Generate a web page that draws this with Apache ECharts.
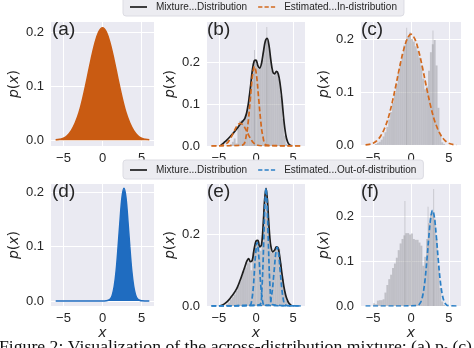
<!DOCTYPE html>
<html><head><meta charset="utf-8">
<script src="https://cdn.jsdelivr.net/npm/echarts@6/dist/echarts.min.js"></script>
<style>html,body{margin:0;padding:0;background:#fff}#c{width:474px;height:348px}</style>
</head><body><div id="c"></div>
<script>
// ---------- data ----------
const xTicks = [-5, 0, 5];
const yTicks3 = [0, 0.1, 0.2];
const yTicks2 = [0, 0.2];
const legendNames = ['Mixture...Distribution', 'Estimated...In-distribution', 'Estimated...Out-of-distribution'];
const panelLabels = ['(a)', '(b)', '(c)', '(d)', '(e)', '(f)'];

// (a) in-distribution density (filled)
const xA = [-6,-5.5,-5,-4.5,-4,-3.5,-3,-2.5,-2,-1.5,-1,-0.5,0,0.5,1,1.5,2,2.5,3,3.5,4,4.5,5,5.5,6];
const yA = [0.001,0.002,0.004,0.009,0.018,0.032,0.052,0.080,0.113,0.148,0.179,0.201,0.209,0.201,0.179,0.148,0.113,0.080,0.052,0.032,0.018,0.009,0.004,0.002,0.001];
// (d) out-of-distribution density (filled)
const xD = [-6,-4,-2,0,0.5,0.75,1,1.25,1.5,1.75,2,2.25,2.5,2.75,3,3.25,3.5,3.75,4,4.25,4.5,4.75,5,6];
const yD = [0,0,0,0,0.0005,0.0015,0.004,0.011,0.027,0.056,0.100,0.149,0.191,0.207,0.191,0.149,0.100,0.056,0.027,0.011,0.004,0.0015,0.0005,0];

// histogram bins (centres) and heights
const histBins = [-4.875,-4.625,-4.375,-4.125,-3.875,-3.625,-3.375,-3.125,-2.875,-2.625,-2.375,-2.125,-1.875,-1.625,-1.375,-1.125,-0.875,-0.625,-0.375,-0.125,0.125,0.375,0.625,0.875,1.125,1.375,1.625,1.875,2.125,2.375,2.625,2.875,3.125,3.375,3.625,3.875,4.125,4.375,4.625,4.875];
const binWidth = 0.25;
const histB = [0,0,0,0,0,0,0.004,0.010,0.018,0.006,0.045,0.060,0.062,0.064,0.075,0.095,0.120,0.150,0.188,0.205,0.195,0.185,0.188,0.205,0.235,0.255,0.250,0.220,0.180,0.168,0.175,0.178,0.160,0.120,0.065,0.025,0.005,0,0,0];
const histC = [0,0.002,0.004,0.006,0.010,0.016,0.024,0.034,0.048,0.062,0.080,0.098,0.115,0.135,0.155,0.172,0.188,0.198,0.205,0.212,0.200,0.195,0.186,0.178,0.165,0.150,0.125,0.105,0.110,0.140,0.175,0.190,0.198,0.150,0.070,0.020,0.005,0.002,0,0];
const histE = [0,0,0,0,0.005,0.010,0.018,0.025,0.032,0.042,0.055,0.068,0.085,0.098,0.108,0.120,0.125,0.100,0.150,0.172,0.175,0.165,0.155,0.180,0.260,0.320,0.250,0.170,0.150,0.150,0.160,0.165,0.160,0.120,0.075,0.040,0.015,0.003,0,0];
const histF = [0.006,0.004,0.012,0.013,0.013,0.015,0.030,0.047,0.060,0.070,0.085,0.095,0.108,0.125,0.140,0.150,0.158,0.163,0.163,0.160,0.162,0.150,0.148,0.148,0.142,0.135,0.090,0.110,0.150,0.185,0.205,0.210,0.195,0.150,0.090,0.040,0.010,0.002,0,0];
// narrow spike bins
const spikeWidth = 0.1;
const spikeBx = [-0.2, 1.46], spikeBh = [0.229, 0.284];
const spikeCx = [-0.56, 2.9], spikeCh = [0.221, 0.216];
const spikeFx = [-0.8, 2.25, 3.0], spikeFh = [0.235, 0.222, 0.262];

// (b) mixture KDE and estimated in-distribution components
const xBk = [-4.75,-4.5,-4.25,-4,-3.5,-3,-2.5,-2,-1.75,-1.5,-1.25,-1,-0.75,-0.5,-0.25,0,0.25,0.5,0.75,1,1.25,1.5,1.75,2,2.25,2.5,2.75,3,3.25,3.5,3.75,4,4.25,4.5,4.75];
const yBk = [0.002,0.005,0.009,0.013,0.022,0.032,0.043,0.055,0.060,0.066,0.080,0.105,0.140,0.180,0.203,0.205,0.192,0.186,0.198,0.225,0.250,0.257,0.240,0.205,0.178,0.172,0.178,0.172,0.148,0.110,0.062,0.028,0.010,0.003,0.001];
const xB1 = [-6,-4.8,-3.9,-3.45,-3.0,-2.55,-2.1,-1.65,-1.2,-0.75,-0.3,0.6,6];
const yB1 = [0,0.0006,0.007,0.018,0.033,0.048,0.054,0.048,0.033,0.018,0.007,0.0006,0];
const xB2 = [-6,-1.85,-1.3,-1.025,-0.75,-0.475,-0.2,0.075,0.35,0.625,0.9,1.45,6];
const yB2 = [0,0.002,0.026,0.062,0.115,0.168,0.19,0.168,0.115,0.062,0.026,0.002,0];
// (c) estimated in-distribution
const xC = [-6,-5.5,-5,-4.5,-4,-3.5,-3,-2.5,-2,-1.5,-1,-0.5,0,0.5,1,1.5,2,2.5,3,3.5,4,4.5,5,5.5,6];
const yC = [0,0.001,0.003,0.008,0.017,0.031,0.051,0.079,0.112,0.147,0.178,0.200,0.209,0.200,0.178,0.147,0.112,0.079,0.051,0.031,0.017,0.008,0.003,0.001,0];
// (e) mixture KDE and estimated out-of-distribution components
const xEk = [-4.75,-4.5,-4.25,-4,-3.75,-3.5,-3.25,-3,-2.75,-2.5,-2.25,-2,-1.75,-1.5,-1.25,-1,-0.75,-0.5,-0.25,0,0.25,0.5,0.75,1,1.15,1.35,1.55,1.7,1.85,2,2.25,2.5,2.75,3,3.25,3.5,3.75,4,4.25,4.5,4.75];
const yEk = [0.001,0.003,0.006,0.010,0.015,0.021,0.028,0.035,0.043,0.053,0.066,0.080,0.095,0.110,0.125,0.133,0.124,0.128,0.160,0.182,0.184,0.166,0.172,0.240,0.295,0.330,0.295,0.240,0.195,0.168,0.152,0.156,0.166,0.162,0.130,0.090,0.055,0.030,0.015,0.006,0.002];
const xE1 = [-6,-0.85,-0.6,-0.35,-0.1,0.15,0.4,0.65,0.9,1.15,6];
const yE1 = [0,0.002,0.013,0.056,0.134,0.178,0.134,0.056,0.013,0.002,0];
const xE2 = [-6,0.51,0.79,1.07,1.21,1.35,1.49,1.63,1.91,2.19,6];
const yE2 = [0,0.004,0.045,0.200,0.291,0.330,0.291,0.200,0.045,0.004,0];
const xE3 = [-6,1.65,2.05,2.45,2.65,2.85,3.05,3.25,3.65,4.05,6];
const yE3 = [0,0.002,0.022,0.100,0.146,0.165,0.146,0.100,0.022,0.002,0];
// (f) estimated out-of-distribution
const xF = [-6,-2,0.85,1.1,1.35,1.6,1.85,2.1,2.35,2.6,2.85,3.1,3.35,3.6,3.85,4.1,4.35,4.6,4.85,6];
const yF = [0,0,0.001,0.004,0.011,0.028,0.058,0.103,0.154,0.197,0.214,0.197,0.154,0.103,0.058,0.028,0.011,0.004,0.001,0];

// ---------- build ----------
const FONT = '"Liberation Sans", Arial, sans-serif';
const TXT = '#262626';
const ORANGE_FILL = '#c95b12', ORANGE = '#d2691e', BLUE_FILL = '#1f6cc0', BLUE = '#2a7fc6', BLACK = '#1e1e1e', HIST = 'rgba(150,150,156,0.5)';
const zip = (xs, ys) => xs.map((x, i) => [x, ys[i]]);

const grids = [
  {left:51, top:22, width:103, height:124},
  {left:207, top:22, width:98, height:124},
  {left:361, top:22, width:100, height:124},
  {left:51, top:184, width:103, height:122},
  {left:207, top:184, width:98, height:122},
  {left:361, top:184, width:100, height:122}
];
const yRanges = [[-0.0105,0.2195],[0,0.296],[-0.002,0.232],[-0.009,0.215],[0,0.342],[0,0.273]];
const yTickSets = [yTicks3, yTicks3, yTicks3, yTicks3, yTicks2, yTicks3];

const nameRich = {i:{fontStyle:'italic', fontSize:14, color:TXT, fontFamily:'"DejaVu Sans", sans-serif'}, u:{fontSize:14, color:TXT, fontFamily:'"DejaVu Sans", sans-serif'}};
const xAxes = grids.map((g, i) => ({
  type:'value', gridIndex:i, min:-6.6, max:6.6,
  axisLine:{show:false}, axisTick:{show:false, customValues:xTicks},
  axisLabel:{customValues:xTicks, formatter:v => (v < 0 ? '\u2212' + Math.abs(v) : String(v)), color:TXT, fontSize:13, fontFamily:FONT, margin:6},
  splitLine:{show:true, lineStyle:{color:'#ffffff', width:1}},
  name: i >= 3 ? '{i|x}' : '', nameLocation:'middle', nameGap:18,
  nameTextStyle:{fontSize:14, color:TXT, rich:nameRich}
}));
const yAxes = grids.map((g, i) => ({
  type:'value', gridIndex:i, min:yRanges[i][0], max:yRanges[i][1],
  axisLine:{show:false}, axisTick:{show:false, customValues:yTickSets[i]},
  axisLabel:{customValues:yTickSets[i], formatter:v => v.toFixed(1), color:TXT, fontSize:13, fontFamily:FONT, margin:7},
  splitLine:{show:true, lineStyle:{color:'#ffffff', width:1}},
  name:'{i|p}{u|(}{i|x}{u|)}', nameLocation:'middle', nameGap:30, nameRotate:90,
  nameTextStyle:{fontSize:14, color:TXT, rich:nameRich}
}));

function histData(heights){ return histBins.map((c, i) => [c - binWidth/2, c + binWidth/2, heights[i]]); }
function spikeData(xs, hs){ return xs.map((c, i) => [c - spikeWidth/2, c + spikeWidth/2, hs[i]]); }
function histSeries(idx, data){
  return {
    type:'custom', xAxisIndex:idx, yAxisIndex:idx, data:data, silent:true, z:1,
    encode:{x:[0,1], y:2},
    renderItem:function(params, api){
      const p0 = api.coord([api.value(0), api.value(2)]);
      const p1 = api.coord([api.value(1), 0]);
      return {type:'rect', shape:{x:p0[0], y:p0[1], width:p1[0]-p0[0], height:p1[1]-p0[1]}, style:{fill:HIST}};
    }
  };
}
function lineSeries(idx, name, xs, ys, color, dashed, width){
  return {
    type:'line', name:name, xAxisIndex:idx, yAxisIndex:idx, data:zip(xs, ys),
    smooth:0.35, symbol:'none', showSymbol:false, silent:true, z:3,
    lineStyle:{color:color, width:width, type: dashed ? [5, 2.6] : 'solid'},
    itemStyle:{color:color}
  };
}
function fillSeries(idx, xs, ys, color){
  return {
    type:'line', name:'fill' + idx, xAxisIndex:idx, yAxisIndex:idx, data:zip(xs, ys),
    smooth:0.35, symbol:'none', silent:true, z:2,
    lineStyle:{color:color, width:1.5}, areaStyle:{color:color, opacity:1, origin:0}
  };
}

const series = [
  fillSeries(0, xA, yA, ORANGE_FILL),
  histSeries(1, histData(histB)), histSeries(1, spikeData(spikeBx, spikeBh)),
  lineSeries(1, legendNames[0], xBk, yBk, BLACK, false, 1.7),
  lineSeries(1, legendNames[1], xB1, yB1, ORANGE, true, 1.7),
  lineSeries(1, legendNames[1], xB2, yB2, ORANGE, true, 1.7),
  histSeries(2, histData(histC)), histSeries(2, spikeData(spikeCx, spikeCh)),
  lineSeries(2, legendNames[1], xC, yC, ORANGE, true, 1.7),
  fillSeries(3, xD, yD, BLUE_FILL),
  histSeries(4, histData(histE)),
  lineSeries(4, legendNames[0], xEk, yEk, BLACK, false, 1.7),
  lineSeries(4, legendNames[2], xE1, yE1, BLUE, true, 1.7),
  lineSeries(4, legendNames[2], xE2, yE2, BLUE, true, 1.7),
  lineSeries(4, legendNames[2], xE3, yE3, BLUE, true, 1.7),
  histSeries(5, histData(histF)), histSeries(5, spikeData(spikeFx, spikeFh)),
  lineSeries(5, legendNames[2], xF, yF, BLUE, true, 1.7)
];

const labelPos = [[52,20],[207,20],[361,20],[52,182],[207,182],[361,182]];
const titles = panelLabels.map((t, i) => ({
  text:t, left:labelPos[i][0], top:labelPos[i][1], padding:0,
  textStyle:{fontSize:19, fontWeight:'normal', color:TXT, fontFamily:FONT}
}));

// legend handle shapes (solid line / dashed line)
const SOLID_ICON = 'path://M0,0h20v2h-20z';
const DASH_ICON = 'path://M0,0h5v2h-5z M7.5,0h5v2h-5z M15,0h5v2h-5z';
const legendBase = {
  orient:'horizontal', itemWidth:17, itemHeight:1.7, itemGap:11, selectedMode:false,
  backgroundColor:'#ececf1', borderColor:'#dcdce3', borderWidth:1, borderRadius:3,
  padding:[5,7,4,7],
  textStyle:{fontSize:10, color:TXT, fontFamily:FONT, padding:[0,0,0,4]}
};
const legends = [
  Object.assign({}, legendBase, {left:123, top:-3, data:[
    {name:legendNames[0], icon:SOLID_ICON, itemStyle:{color:BLACK}},
    {name:legendNames[1], icon:DASH_ICON, itemStyle:{color:ORANGE}}]}),
  Object.assign({}, legendBase, {left:123, top:160, data:[
    {name:legendNames[0], icon:SOLID_ICON, itemStyle:{color:BLACK}},
    {name:legendNames[2], icon:DASH_ICON, itemStyle:{color:BLUE}}]})
];

const chart = echarts.init(document.getElementById('c'), null, {renderer:'canvas'});
chart.setOption({
  backgroundColor:'#ffffff',
  animation:false,
  title:titles,
  legend:legends,
  grid:grids.map(g => Object.assign({backgroundColor:'#eaeaf2', show:true, borderWidth:0}, g)),
  xAxis:xAxes,
  yAxis:yAxes,
  series:series,
  graphic:[{
    type:'text', left:-1, top:338, silent:true,
    style:{
      text:'Figure 2: Visualization of the across-distribution mixture: (a) p{s|I} (c)',
      rich:{s:{fontSize:12, fontFamily:'"Liberation Serif", serif', fill:'#111', padding:[9,0,0,0]}},
      fontSize:17.7, fontFamily:'"Liberation Serif", "Times New Roman", serif', fill:'#111'
    }
  }]
});
</script></body></html>
